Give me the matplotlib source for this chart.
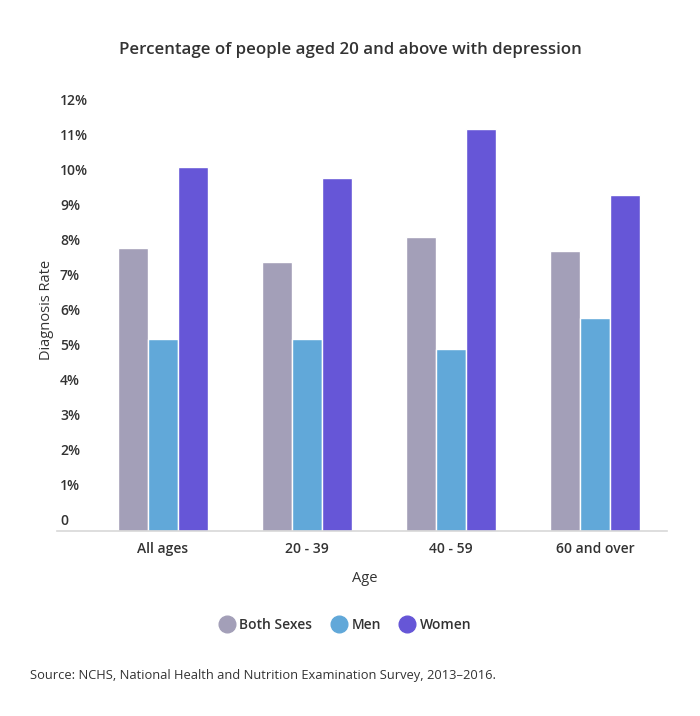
import matplotlib
matplotlib.use("Agg")
import matplotlib.pyplot as plt
from matplotlib.lines import Line2D
import matplotlib.transforms as mtrans
import numpy as np

plt.rcParams['font.family'] = ['Open Sans', 'DejaVu Sans']

categories = ["All ages", "20 - 39", "40 - 59", "60 and over"]
series_names = ["Both Sexes", "Men", "Women"]
both_sexes = [8.1, 7.7, 8.4, 8.0]
men = [5.5, 5.5, 5.2, 6.1]
women = [10.4, 10.1, 11.5, 9.6]
y_ticks = [0, 1, 2, 3, 4, 5, 6, 7, 8, 9, 10, 11, 12]
colors = ["#a39fb8", "#61a8d9", "#6656d7"]
text_color = "#333333"

fig = plt.figure(figsize=(7.0, 7.16), dpi=100)
W, H = 700, 716
ax = fig.add_axes([91 / W, 1 - 531 / H, (667 - 91) / W, (531 - 111) / H])

x = np.arange(len(categories))
bw = 0.208
for i, (vals, c) in enumerate(zip([both_sexes, men, women], colors)):
    ax.bar(x + (i - 1) * bw, vals, width=bw, color=c, edgecolor="white",
           linewidth=1.0, label=series_names[i], zorder=2)

ax.set_xlim(-0.5, len(categories) - 0.5)
ax.set_ylim(0, 12)
for s in ["top", "right", "left", "bottom"]:
    ax.spines[s].set_visible(False)
ax.set_yticks([])
ax.set_xticks(x)
ax.set_xticklabels(categories, fontsize=10, fontweight="semibold", color=text_color)
ax.tick_params(axis="x", length=0, pad=8)

# baseline extending into label area
ax.plot([-(91 - 57) / (667 - 91), 1.0], [0, 0], transform=ax.transAxes,
        color="#d8d8d8", lw=1.2, clip_on=False, zorder=3)

# y tick labels, left aligned, sitting above their value
lab_trans = mtrans.blended_transform_factory(fig.transFigure, ax.transData) + \
    mtrans.ScaledTranslation(0, 0.10, fig.dpi_scale_trans)
for t in y_ticks:
    ax.text(60 / W, t, "0" if t == 0 else f"{t}%", transform=lab_trans,
            ha="left", va="center", fontsize=10, fontweight="semibold",
            color=text_color)

fig.text(46 / W, 1 - 310 / H, "Diagnosis Rate", rotation=90, ha="center",
         va="center", fontsize=10.5, color=text_color)
fig.text(365 / W, 1 - 578 / H, "Age", ha="center", va="center",
         fontsize=10.5, color=text_color)
fig.text(350 / W, 1 - 50 / H, "Percentage of people aged 20 and above with depression",
         ha="center", va="center", fontsize=12.2, fontweight="semibold", color=text_color)
fig.text(30 / W, 1 - 676 / H,
         "Source: NCHS, National Health and Nutrition Examination Survey, 2013\u20132016.",
         ha="left", va="center", fontsize=9.3, color=text_color)

handles = [Line2D([0], [0], marker="o", linestyle="", markersize=12,
                  markerfacecolor=c, markeredgecolor=c) for c in colors]
fig.legend(handles, series_names, loc="center", bbox_to_anchor=(345 / W, 1 - 625 / H),
           ncol=3, frameon=False, handletextpad=0.3, columnspacing=1.3,
           prop={"size": 10, "weight": "semibold"}, labelcolor=text_color,
           handlelength=1.2)

fig.savefig("out.png", dpi=100, facecolor="white")
